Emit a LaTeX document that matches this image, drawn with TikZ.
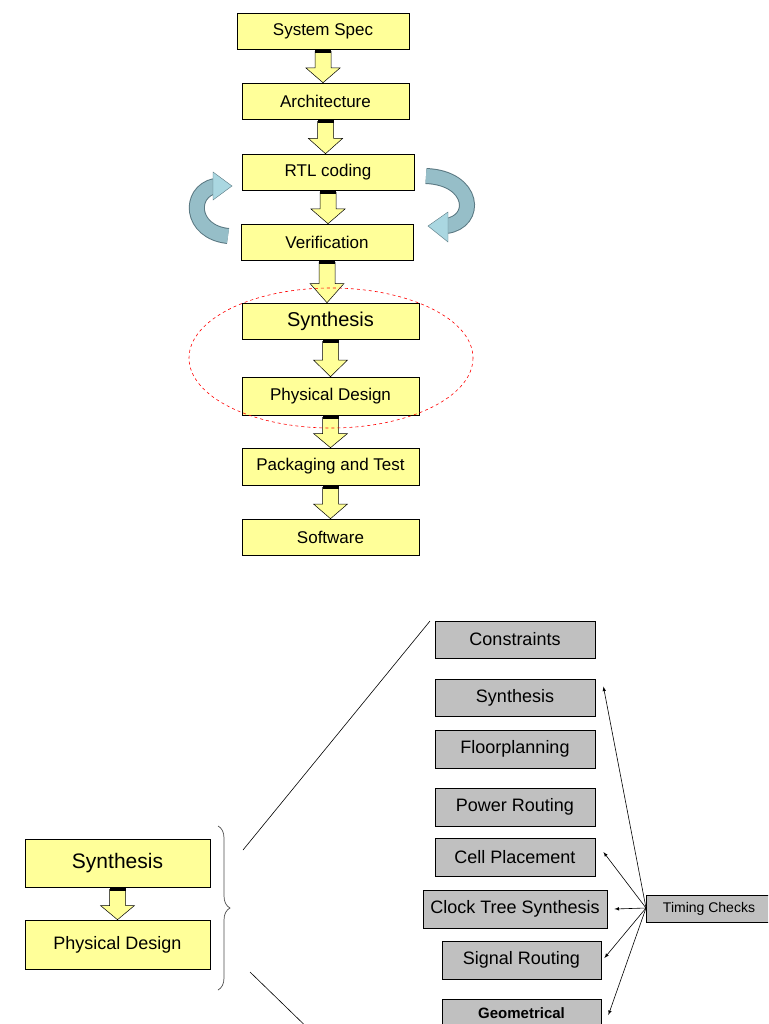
\documentclass[tikz,border=0pt]{standalone}
\usepackage{fontspec}
\setmainfont{Liberation Sans}
\usetikzlibrary{calc,decorations.pathreplacing}
\definecolor{yel}{RGB}{255,255,153}
\definecolor{gry}{RGB}{192,192,192}
\definecolor{cv}{RGB}{150,190,200}
\definecolor{cvd}{RGB}{90,120,130}
\definecolor{cvl}{RGB}{170,215,225}
\begin{document}
\begin{tikzpicture}[x=1pt,y=-1pt,
  ybox/.style={draw=black,fill=yel,line width=0.6pt,inner sep=0pt,font=\fontsize{17}{19}\selectfont},
  gbox/.style={draw=black,fill=gry,line width=0.8pt,inner sep=0pt,font=\fontsize{18}{20}\selectfont},
  curvo/.style={line width=16pt,draw=cvd},
  curv/.style={line width=14pt,draw=cv},
  tip/.style={fill=cvl,draw=cvd},
  tarr/.style={-latex,line width=0.6pt}]
\useasboundingbox (0,0) rectangle (768,1024);
\clip (0,0) rectangle (768,1024);
\newcommand\blockarrow[2]{%
 \path let \p1=(#1.south),\p2=(#2.north),\n1={(\y1-\y2)} in
  [fill=yel,draw=black,line width=0.5pt]
  (\x1-8,\y1-2) -- (\x1+8,\y1-2) -- (\x1+8,{\y1-2-0.5*\n1}) -- (\x1+17,{\y1-2-0.5*\n1}) -- (\x1,\y2) -- (\x1-17,{\y1-2-0.5*\n1}) -- (\x1-8,{\y1-2-0.5*\n1}) -- cycle;
 \path let \p1=(#1.south) in [fill=black] (\x1-8,\y1-1) rectangle (\x1+8,\y1-4);}
\newcommand\ybox[7]{\node[ybox,minimum width=#4-#2,minimum height=#5-#3,#6] (#1) at ({(#2+#4)/2},{(#3+#5)/2}) {#7};}
\ybox{a}{237}{13}{409}{49}{}{System Spec}
\ybox{b}{242}{83}{409}{119}{}{Architecture}
\ybox{c}{242}{154}{414}{190}{}{RTL coding}
\ybox{d}{241}{224}{413}{260}{}{Verification}
\ybox{e}{242}{303}{419}{339}{font=\fontsize{20}{22}\selectfont}{Synthesis}
\ybox{f}{242}{377}{419}{415}{}{Physical Design}
\ybox{g}{242}{448}{419}{485}{}{Packaging and Test}
\ybox{h}{242}{519}{419}{555}{}{Software}
\blockarrow{a}{b}\blockarrow{b}{c}\blockarrow{c}{d}\blockarrow{d}{e}\blockarrow{e}{f}\blockarrow{f}{g}\blockarrow{g}{h}
\draw[red,dashed,line width=0.6pt] (331,358) ellipse [x radius=142,y radius=70];
% curved arrows
\coordinate (l1) at (228,236); \coordinate (l2) at (215,186);
\draw[curvo] (l1) .. controls (190,232) and (188,192) .. (l2);
\draw[curv] (l1) .. controls (190,232) and (188,192) .. (l2);
\filldraw[tip] (213,172) -- (232,186) -- (213,200) -- cycle;
\coordinate (r1) at (426,176); \coordinate (r2) at (446,226);
\draw[curvo] (r1) .. controls (475,178) and (478,222) .. (r2);
\draw[curv] (r1) .. controls (475,178) and (478,222) .. (r2);
\filldraw[tip] (448,212) -- (428,226) -- (448,242) -- cycle;
% bottom left
\ybox{s}{25}{839}{210}{887}{font=\fontsize{21}{23}\selectfont}{Synthesis}
\ybox{p}{25}{920}{210}{969}{font=\fontsize{18}{20}\selectfont}{Physical Design}
\blockarrow{s}{p}
\draw[decorate,decoration={brace,amplitude=12pt},line width=0.7pt,draw=black!70] (218,826) -- (218,990);
\coordinate (br1) at (243,850); \coordinate (br2) at (250,972);
\coordinate (t1) at (430,621); \coordinate (t2) at (320,1040);
\draw[line width=0.6pt] (br1) -- (t1) (br2) -- (t2);
% gray boxes
\newcommand\gb[7]{\node[gbox,minimum width=#4-#2,minimum height=#5-#3,#6] (#1) at ({(#2+#4)/2},{(#3+#5)/2}) {#7};}
\gb{k1}{435}{621}{595}{658}{}{Constraints}
\gb{k2}{435}{679}{595}{716}{}{Synthesis}
\gb{k3}{435}{730}{595}{768}{}{Floorplanning}
\gb{k4}{435}{788}{595}{826}{}{Power Routing}
\gb{k5}{435}{838}{595}{876}{}{Cell Placement}
\gb{k6}{423}{890}{607}{928}{}{Clock Tree Synthesis}
\gb{k7}{442}{941}{601}{979}{}{Signal Routing}
\gb{k8}{442}{999}{601}{1045}{align=center,font=\fontsize{15}{17}\selectfont\bfseries}{Geometrical\\Verification}
\gb{tc}{646}{895}{772}{922}{font=\fontsize{14}{16}\selectfont}{Timing Checks}
\coordinate (tw) at (646,908);
\draw[tarr] (tw) -- ($(k2.east)+(8,-11)$);
\draw[tarr] (tw) -- ($(k5.east)+(8,-5)$);
\draw[tarr] (tw) -- ($(k6.east)+(7,0)$);
\draw[tarr] (tw) -- ($(k7.east)+(3,-2)$);
\draw[tarr] (tw) -- ($(k8.east)+(7,-7)$);
\end{tikzpicture}
\end{document}
